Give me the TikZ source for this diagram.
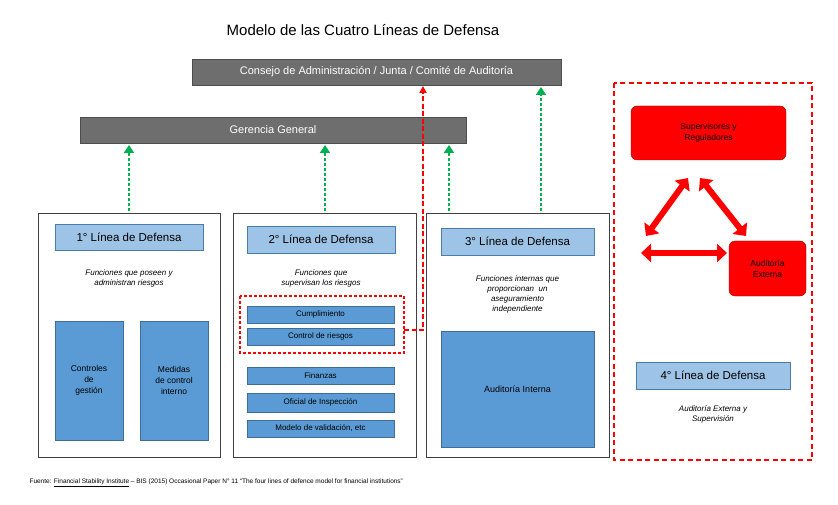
\documentclass[tikz,border=0pt]{standalone}
\usepackage{fontspec}
\setmainfont{Liberation Sans}
\usetikzlibrary{arrows.meta}
\definecolor{lblue}{HTML}{9DC3E6}
\definecolor{mblue}{HTML}{5B9BD5}
\definecolor{bgrey}{HTML}{6E6E6E}
\definecolor{dgreen}{HTML}{00B050}
\begin{document}
\begin{tikzpicture}[x=1pt,y=-1pt,
 bar/.style={fill=bgrey,draw=bgrey!70!black,text=white,font=\fontsize{11}{13}\selectfont},
 frame/.style={draw=black!75,line width=0.6pt},
 hdr/.style={fill=lblue,draw=mblue!80!black,font=\fontsize{11.5}{13}\selectfont},
 item/.style={fill=mblue,draw=mblue!70!black,font=\fontsize{8}{10}\selectfont},
 desc/.style={font=\itshape\fontsize{8}{10}\selectfont,align=center},
 rbox/.style={fill=red,draw=red!60!black,rounded corners=6pt,font=\fontsize{8.5}{11}\selectfont,align=center},
 garrow/.style={dgreen,line width=2.5pt,dash pattern=on 2.5pt off 2.5pt,-{Triangle[length=8pt,width=10pt]}},
 rarrow/.style={red,line width=6pt,{Triangle[length=10pt,width=18pt]}-{Triangle[length=10pt,width=18pt]}}]
\useasboundingbox (0,0) rectangle (838,505);
\node (title) at (363,30) {\fontsize{15}{18}\selectfont Modelo de las Cuatro Líneas de Defensa};
\path[bar] (192,59) rectangle (561,85); \node[text=white,font=\fontsize{11}{13}\selectfont] (cons) at (376.5,72) {Consejo de Administración / Junta / Comité de Auditoría};
\path[bar] (80,117) rectangle (466,143); \node[text=white,font=\fontsize{11}{13}\selectfont] (ger) at (273,130) {Gerencia General};
% box1
\draw[frame] (38,213) rectangle (220,457);
\draw[hdr] (55,224) rectangle (203,250); \node[font=\fontsize{11.5}{13}\selectfont] (h1) at (129,237) {1° Línea de Defensa};
\node[desc] (d1) at (129,278) {Funciones que poseen y\\administran riesgos};
\draw[item] (55,321) rectangle (123,440); \node[font=\fontsize{8.5}{11}\selectfont,align=center] (cg) at (89,380) {Controles\\de\\gestión};
\draw[item] (140,321) rectangle (208,440); \node[font=\fontsize{8.5}{11}\selectfont,align=center] (mc) at (174,380) {Medidas\\de control\\interno};
% box2
\draw[frame] (233,213) rectangle (416,457);
\draw[hdr] (247,226) rectangle (395,253); \node[font=\fontsize{11.5}{13}\selectfont] (h2) at (321,239.5) {2° Línea de Defensa};
\node[desc] (d2) at (321,278) {Funciones que\\supervisan los riesgos};
\draw[red,line width=1.2pt,dash pattern=on 3pt off 2pt] (240,296) rectangle (404,353);
\coordinate (rs) at (404,330);
\draw[item] (247,306) rectangle (394,323); \node[font=\fontsize{8}{10}\selectfont] (cu) at (320.5,314.5) {Cumplimiento};
\draw[item] (247,328) rectangle (394,345); \node[font=\fontsize{8}{10}\selectfont] (cr) at (320.5,336.5) {Control de riesgos};
\draw[item] (247,367) rectangle (394,384); \node[font=\fontsize{8}{10}\selectfont] (fi) at (320.5,375.5) {Finanzas};
\draw[item] (247,393) rectangle (394,412); \node[font=\fontsize{8}{10}\selectfont] (oi) at (320.5,402.5) {Oficial de Inspección};
\draw[item] (247,420) rectangle (394,437); \node[font=\fontsize{8}{10}\selectfont] (mv) at (320.5,428.5) {Modelo de validación, etc};
% box3
\draw[frame] (426,213) rectangle (609,457);
\draw[hdr] (441,228) rectangle (594,255); \node[font=\fontsize{11.5}{13}\selectfont] (h3) at (517.5,241.5) {3° Línea de Defensa};
\node[desc] (d3) at (517.5,294) {Funciones internas que\\proporcionan~ un\\aseguramiento\\independiente};
\draw[item] (441,331) rectangle (594,447); \node[font=\fontsize{9}{11}\selectfont] (ai) at (517.5,389) {Auditoría Interna};
% box4
\draw[red,line width=1.6pt,dash pattern=on 5pt off 3.5pt] (614,83) rectangle (812,460);
\path[rbox] (631,106) rectangle (786,160); \node[font=\fontsize{8.5}{11}\selectfont,align=center] (sr) at (708.5,133) {Supervisores y\\Reguladores};
\path[rbox] (729,241) rectangle (806,296); \node[font=\fontsize{8.5}{11}\selectfont,align=center] (ae) at (767.5,268.5) {Auditoría\\Externa};
\coordinate (a1) at (646,236); \coordinate (a2) at (688,178);
\coordinate (b1) at (700,178); \coordinate (b2) at (746,236);
\coordinate (c1) at (641,253); \coordinate (c2) at (727,253);
\draw[rarrow] (a1) -- (a2);
\draw[rarrow] (b1) -- (b2);
\draw[rarrow] (c1) -- (c2);
\draw[hdr] (636,362) rectangle (790,389); \node[font=\fontsize{11.5}{13}\selectfont] (h4) at (713,375.5) {4° Línea de Defensa};
\node[desc] (d4) at (713,414) {Auditoría Externa y\\Supervisión};
% arrows
\coordinate (g1) at (129,211); \coordinate (g1t) at (129,145);
\coordinate (g2) at (325,211); \coordinate (g2t) at (325,145);
\coordinate (g3) at (449,211); \coordinate (g3t) at (449,145);
\coordinate (g4) at (541,211); \coordinate (g4t) at (541,87);
\draw[garrow] (g1) -- (g1t);
\draw[garrow] (g2) -- (g2t);
\draw[garrow] (g3) -- (g3t);
\draw[garrow] (g4) -- (g4t);
\coordinate (rt) at (423,86);
\draw[red,line width=2pt,dash pattern=on 5pt off 2.5pt,-{Triangle[length=7pt,width=7pt]}] (rs) -| (rt);
\node[anchor=west,font=\fontsize{6.5}{8}\selectfont] (src) at (26,483) {Fuente: \underline{Financial Stability Institute} – BIS (2015) Occasional Paper N° 11 “The four lines of defence model for financial institutions”};
\end{tikzpicture}
\end{document}
